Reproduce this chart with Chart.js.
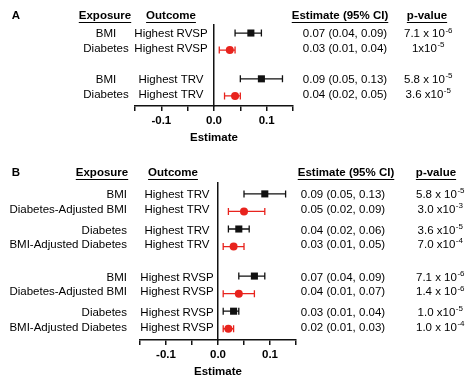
<!DOCTYPE html>
<html>
<head>
<meta charset="utf-8">
<script src="https://cdn.jsdelivr.net/npm/chart.js@4.4.0/dist/chart.umd.min.js"></script>
<style>
  body { margin: 0; background: #fff; }
  canvas { display: block; }
</style>
</head>
<body>
<canvas id="chartA" width="474" height="160"></canvas>
<canvas id="chartB" width="474" height="226"></canvas>
<script>
// panel A
const exposureA = ['BMI', 'Diabetes', 'BMI', 'Diabetes'];
const outcomeA = ['Highest RVSP', 'Highest RVSP', 'Highest TRV', 'Highest TRV'];
const estimateA = [0.07, 0.03, 0.09, 0.04];
const lowerA = [0.04, 0.01, 0.05, 0.02];
const upperA = [0.09, 0.04, 0.13, 0.05];
const pBaseA = ['7.1 x 10', '1x10', '5.8 x 10', '3.6 x10'];
const pExpA = ['-6', '-5', '-5', '-5'];

// panel B
const exposureB = ['BMI', 'Diabetes-Adjusted BMI', 'Diabetes', 'BMI-Adjusted Diabetes',
                   'BMI', 'Diabetes-Adjusted BMI', 'Diabetes', 'BMI-Adjusted Diabetes'];
const outcomeB = ['Highest TRV', 'Highest TRV', 'Highest TRV', 'Highest TRV',
                  'Highest RVSP', 'Highest RVSP', 'Highest RVSP', 'Highest RVSP'];
const estimateB = [0.09, 0.05, 0.04, 0.03, 0.07, 0.04, 0.03, 0.02];
const lowerB = [0.05, 0.02, 0.02, 0.01, 0.04, 0.01, 0.01, 0.01];
const upperB = [0.13, 0.09, 0.06, 0.05, 0.09, 0.07, 0.04, 0.03];
const pBaseB = ['5.8 x 10', '3.0 x10', '3.6 x10', '7.0 x10', '7.1 x 10', '1.4 x 10', '1.0 x10', '1.0 x 10'];
const pExpB = ['-5', '-3', '-5', '-4', '-6', '-6', '-5', '-4'];

// axis
const tickValues = [-0.1, 0.0, 0.1];
const tickLabels = ['-0.1', '0.0', '0.1'];

const FONT = '"Liberation Sans", Arial, sans-serif';
const BLACK = '#111';
const RED = '#e8231d';
Chart.defaults.font.family = FONT;

function rowPositions(outcomes) {
  // extra gap whenever the outcome changes
  let shift = 0;
  return outcomes.map((o, i) => {
    if (i > 0 && o !== outcomes[i - 1]) shift += 0.68;
    return i + shift;
  });
}

function fmt(v) { return v.toFixed(2); }

function makeChart(id, d, L) {
  const pos = rowPositions(d.outcome);
  const even = [], odd = [];
  d.estimate.forEach((v, i) => (i % 2 ? odd : even).push({ x: v, y: pos[i] }));

  const forest = {
    id: 'forest',
    beforeDatasetsDraw(chart) {
      const { ctx, scales: { x, y } } = chart;
      ctx.save();
      ctx.lineWidth = 1.3;
      d.estimate.forEach((v, i) => {
        const py = y.getPixelForValue(pos[i]);
        const x1 = x.getPixelForValue(d.lower[i]);
        const x2 = x.getPixelForValue(d.upper[i]);
        ctx.strokeStyle = i % 2 ? RED : BLACK;
        ctx.beginPath();
        ctx.moveTo(x1, py); ctx.lineTo(x2, py);
        ctx.moveTo(x1, py - 3.5); ctx.lineTo(x1, py + 3.5);
        ctx.moveTo(x2, py - 3.5); ctx.lineTo(x2, py + 3.5);
        ctx.stroke();
      });
      ctx.restore();
    },
    afterDraw(chart) {
      const { ctx, scales: { y } } = chart;
      ctx.save();
      ctx.fillStyle = '#000';
      ctx.strokeStyle = '#000';
      ctx.textBaseline = 'middle';

      // panel letter
      ctx.font = 'bold 11.5px ' + FONT;
      ctx.textAlign = 'center';
      ctx.fillText(L.letter, 16, L.headerY);

      // underlined headers
      const header = (txt, cx) => {
        ctx.textAlign = 'center';
        ctx.fillText(txt, cx, L.headerY);
        const w = ctx.measureText(txt).width;
        ctx.lineWidth = 1;
        ctx.beginPath();
        ctx.moveTo(cx - w / 2, L.headerY + 6.5);
        ctx.lineTo(cx + w / 2, L.headerY + 6.5);
        ctx.stroke();
      };
      header('Exposure', L.hExp);
      header('Outcome', L.hOut);
      header('Estimate (95% CI)', L.hEst);
      header('p-value', L.hP);

      // rows
      const px = pos.map(p => y.getPixelForValue(p));
      d.estimate.forEach((v, i) => {
        const c = (px[i] + px[i ^ 1]) / 2;
        const ty = c + (px[i] - c) * 0.85;
        ctx.font = '11.5px ' + FONT;
        ctx.textAlign = L.expAlign;
        ctx.fillText(d.exposure[i], L.expX, ty);
        ctx.textAlign = 'center';
        ctx.fillText(d.outcome[i], L.outX, ty);
        ctx.fillText(fmt(v) + ' (' + fmt(d.lower[i]) + ', ' + fmt(d.upper[i]) + ')', L.estX, ty);

        // p-value with superscript exponent
        const base = d.pBase[i], ex = d.pExp[i];
        ctx.font = '11.5px ' + FONT;
        const wb = ctx.measureText(base).width;
        ctx.font = '8px ' + FONT;
        const we = ctx.measureText(ex).width;
        const x0 = L.pX - (wb + we) / 2;
        ctx.textAlign = 'left';
        ctx.font = '11.5px ' + FONT;
        ctx.fillText(base, x0, ty);
        ctx.font = '8px ' + FONT;
        ctx.fillText(ex, x0 + wb + 0.5, ty - 4);
      });
      ctx.restore();
    }
  };

  return new Chart(document.getElementById(id), {
    type: 'scatter',
    data: {
      datasets: [
        { data: even, pointStyle: 'rect', pointRadius: 5, backgroundColor: BLACK, borderWidth: 0 },
        { data: odd, pointStyle: 'circle', pointRadius: 4, backgroundColor: RED, borderWidth: 0 }
      ]
    },
    options: {
      responsive: false,
      animation: false,
      layout: { padding: { top: L.padTop, left: L.padLeft, right: L.padRight, bottom: L.padBottom } },
      plugins: { legend: { display: false }, tooltip: { enabled: false } },
      scales: {
        x: {
          type: 'linear',
          position: 'bottom',
          min: -0.15, max: 0.15,
          afterFit: s => { s.height = L.axisH; },
          border: { color: BLACK, width: 1.5 },
          grid: { drawOnChartArea: false, drawTicks: true, tickLength: 5, color: BLACK, lineWidth: 1.5 },
          ticks: {
            stepSize: 0.05, autoSkip: false, maxRotation: 0, padding: 3,
            color: '#000', font: { size: 11.5, weight: 'bold' },
            callback: v => {
              const k = tickValues.findIndex(t => Math.abs(t - v) < 1e-6);
              return k >= 0 ? tickLabels[k] : '';
            }
          },
          title: { display: true, text: 'Estimate', color: '#000', padding: 0, font: { size: 11.5, weight: 'bold' } }
        },
        y: {
          type: 'linear',
          reverse: true,
          min: L.yMin, max: L.yMax,
          position: { x: 0 },
          grid: { display: false },
          ticks: { display: false },
          border: { color: BLACK, width: 1.5 }
        }
      }
    },
    plugins: [forest]
  });
}

makeChart('chartA', {
  exposure: exposureA, outcome: outcomeA, estimate: estimateA,
  lower: lowerA, upper: upperA, pBase: pBaseA, pExp: pExpA
}, {
  letter: 'A', headerY: 16,
  padTop: 25, padLeft: 135, padRight: 181, padBottom: 15, axisH: 39,
  yMin: -0.47, yMax: 4.27,
  hExp: 105, hOut: 171, hEst: 340, hP: 427,
  expX: 106, expAlign: 'center', outX: 171, estX: 345, pX: 428
});

makeChart('chartB', {
  exposure: exposureB, outcome: outcomeB, estimate: estimateB,
  lower: lowerB, upper: upperB, pBase: pBaseB, pExp: pExpB
}, {
  letter: 'B', headerY: 13,
  padTop: 23, padLeft: 140, padRight: 178, padBottom: 7, axisH: 39,
  yMin: -0.62, yMax: 8.32,
  hExp: 102, hOut: 173, hEst: 346, hP: 436,
  expX: 127, expAlign: 'right', outX: 177, estX: 343, pX: 440
});
</script>
</body>
</html>
